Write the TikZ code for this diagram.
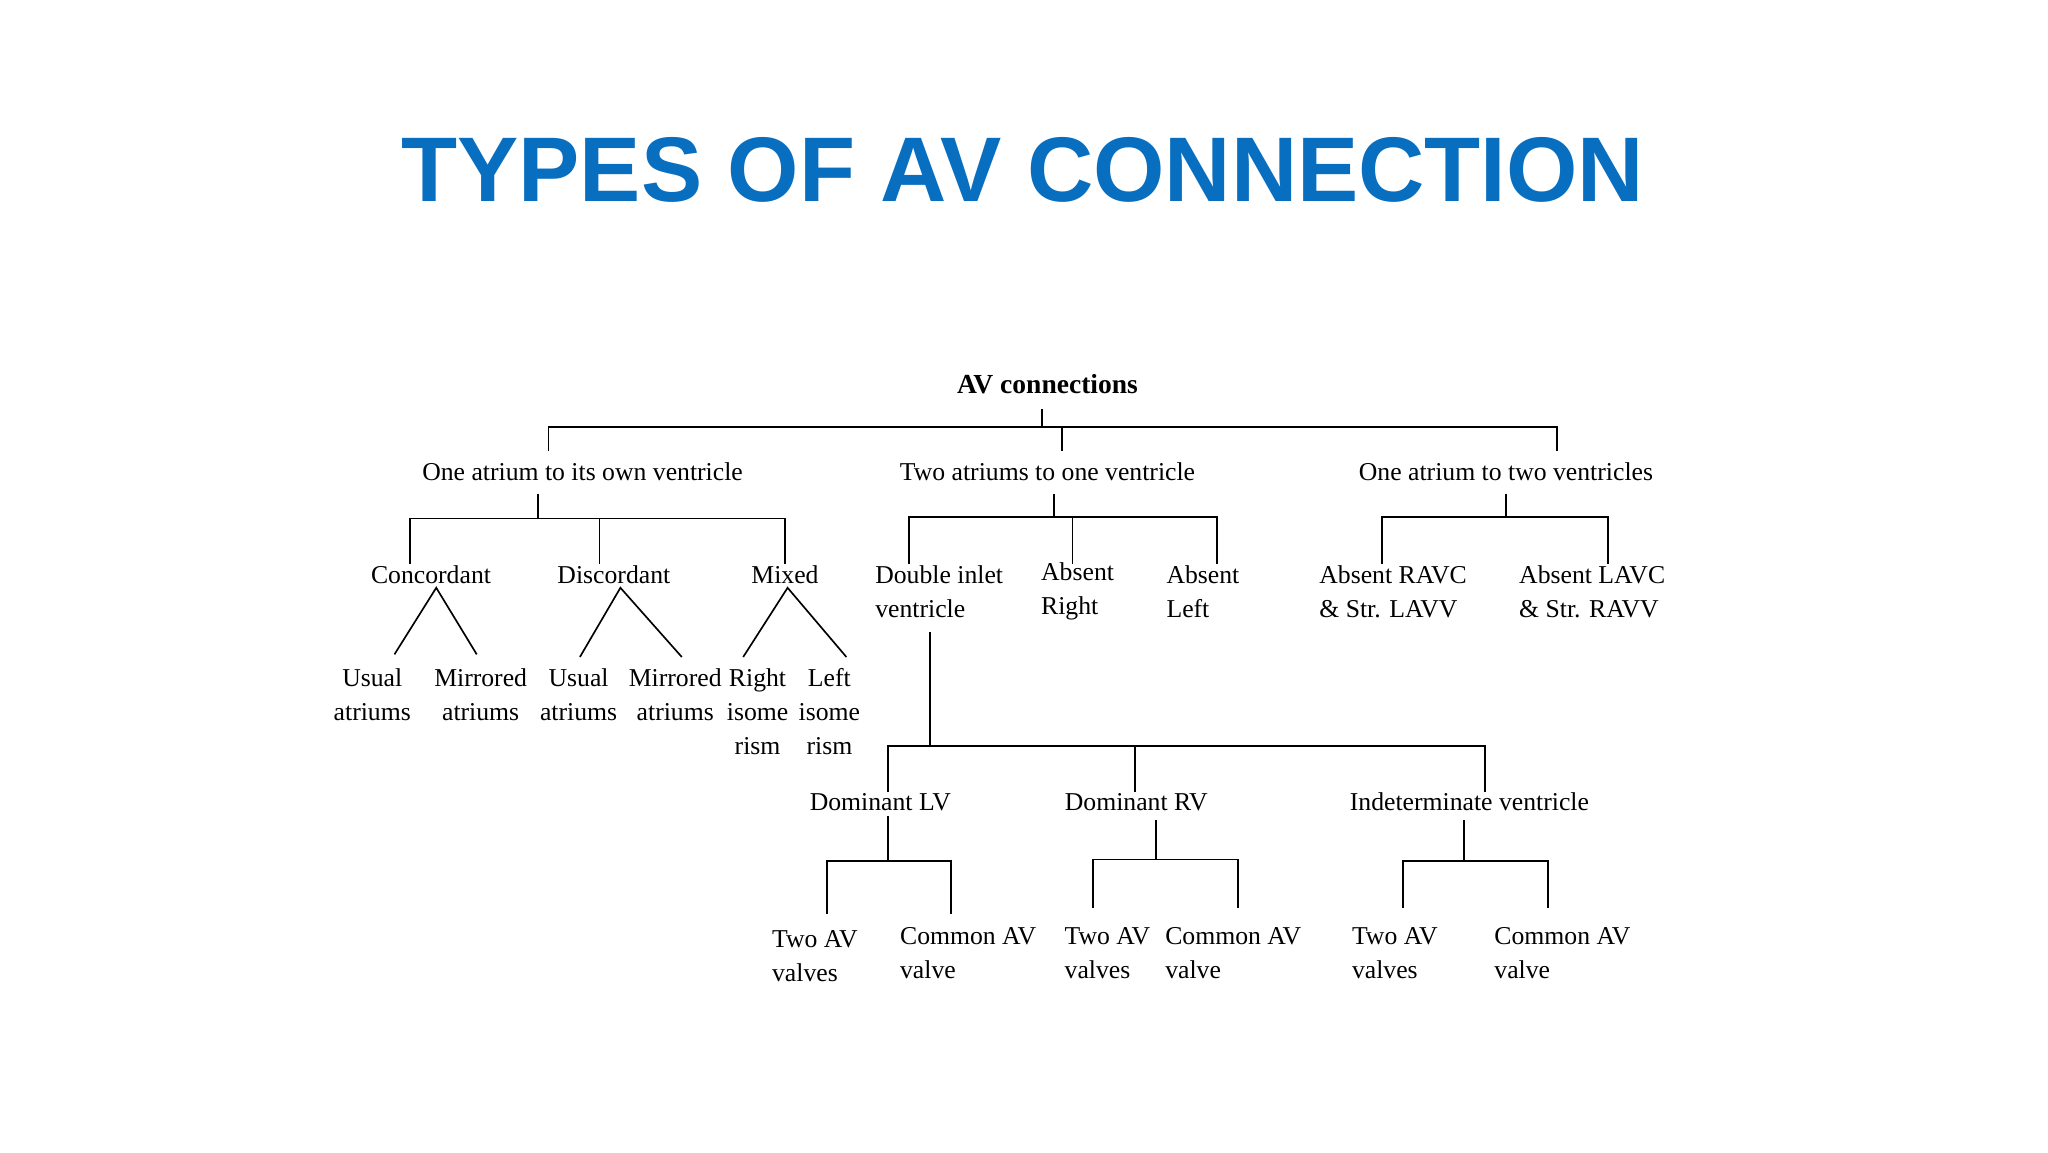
\documentclass[tikz,border=0pt]{standalone}
\usepackage{fontspec}
\setmainfont{Liberation Serif}
\newfontfamily\titlefont{Liberation Sans}
\definecolor{titleblue}{RGB}{8,110,192}
\begin{document}
\begin{tikzpicture}[x=0.05cm,y=-0.05cm,
  lbl/.style={inner sep=0pt,font=\fontsize{28}{37}\selectfont},
  lc/.style={lbl,align=center},
  ll/.style={lbl,align=left,anchor=west},
  ln/.style={line width=1.8pt}]
\useasboundingbox[fill=white] (0,0) rectangle (1568,882);
\node[inner sep=0pt,text=titleblue,font=\titlefont\bfseries\fontsize{100}{110}\selectfont] (title) at (783,130) {TYPES OF AV CONNECTION};
\node[lbl,font=\bfseries\fontsize{30}{37}\selectfont] (root) at (802,294) {AV connections};
% level 1
\node[lc] (own) at (446,361) {One atrium to its own ventricle};
\node[lc] (two) at (802,361) {Two atriums to one ventricle};
\node[lc] (one) at (1153,361) {One atrium to two ventricles};
\coordinate (r0) at (798,313);
\draw[ln] (r0) -- (798,327);
\draw[ln] (420,345) -- (420,327) -- (1192,327) -- (1192,345);
\draw[ln] (813,327) -- (813,345);
% own ventricle
\node[lc] (conc) at (330,440) {Concordant};
\node[lc] (disc) at (470,440) {Discordant};
\node[lc] (mix) at (601,440) {Mixed};
\draw[ln] (412,378) -- (412,397);
\draw[ln] (314,432) -- (314,397) -- (601,397) -- (601,432);
\draw[ln] (459,397) -- (459,432);
\node[lc] (ua1) at (285,532) {Usual\\atriums};
\node[lc] (ma1) at (368,532) {Mirrored\\atriums};
\node[lc] (ua2) at (443,532) {Usual\\atriums};
\node[lc] (ma2) at (517,532) {Mirrored\\atriums};
\node[lc] (ri) at (580,545) {Right\\isome\\rism};
\node[lc] (li) at (635,545) {Left\\isome\\rism};
\draw[ln] (302,501) -- (334,450) -- (365,501);
\draw[ln] (444,503) -- (475,450) -- (522,503);
\draw[ln] (569,503) -- (603,450) -- (648,503);
% two atriums
\draw[ln] (807,378) -- (807,396);
\draw[ln] (696,432) -- (696,396) -- (932,396) -- (932,432);
\draw[ln] (821,396) -- (821,432);
\node[ll] (div) at (670,453) {Double inlet\\ventricle};
\node[ll] (ar) at (797,453) {Absent\\Right};
\node[ll] (al) at (893,453) {Absent\\Left};
% one atrium to two
\draw[ln] (1153,378) -- (1153,396);
\draw[ln] (1058,432) -- (1058,396) -- (1231,396) -- (1231,432);
\node[ll] (ar2) at (1010,453) {Absent RAVC\\\& Str. LAVV};
\node[ll] (al2) at (1163,453) {Absent LAVC\\\& Str. RAVV};
% DIV
\draw[ln] (712,484) -- (712,571);
\draw[ln] (680,606) -- (680,571) -- (1137,571) -- (1137,606);
\draw[ln] (869,571) -- (869,606);
\node[lc] (dlv) at (674,614) {Dominant LV};
\node[lc] (drv) at (870,614) {Dominant RV};
\node[lc] (ind) at (1125,614) {Indeterminate ventricle};
\draw[ln] (680,625) -- (680,659);
\draw[ln] (633,700) -- (633,659) -- (728,659) -- (728,700);
\draw[ln] (885,628) -- (885,658);
\draw[ln] (837,695) -- (837,658) -- (948,658) -- (948,695);
\draw[ln] (1121,628) -- (1121,659);
\draw[ln] (1074,695) -- (1074,659) -- (1185,659) -- (1185,695);
\node[ll] (t1) at (591,732) {Two AV\\valves};
\node[ll] (c1) at (689,730) {Common AV\\valve};
\node[ll] (t2) at (815,730) {Two AV\\valves};
\node[ll] (c2) at (892,730) {Common AV\\valve};
\node[ll] (t3) at (1035,730) {Two AV\\valves};
\node[ll] (c3) at (1144,730) {Common AV\\valve};
\end{tikzpicture}
\end{document}
